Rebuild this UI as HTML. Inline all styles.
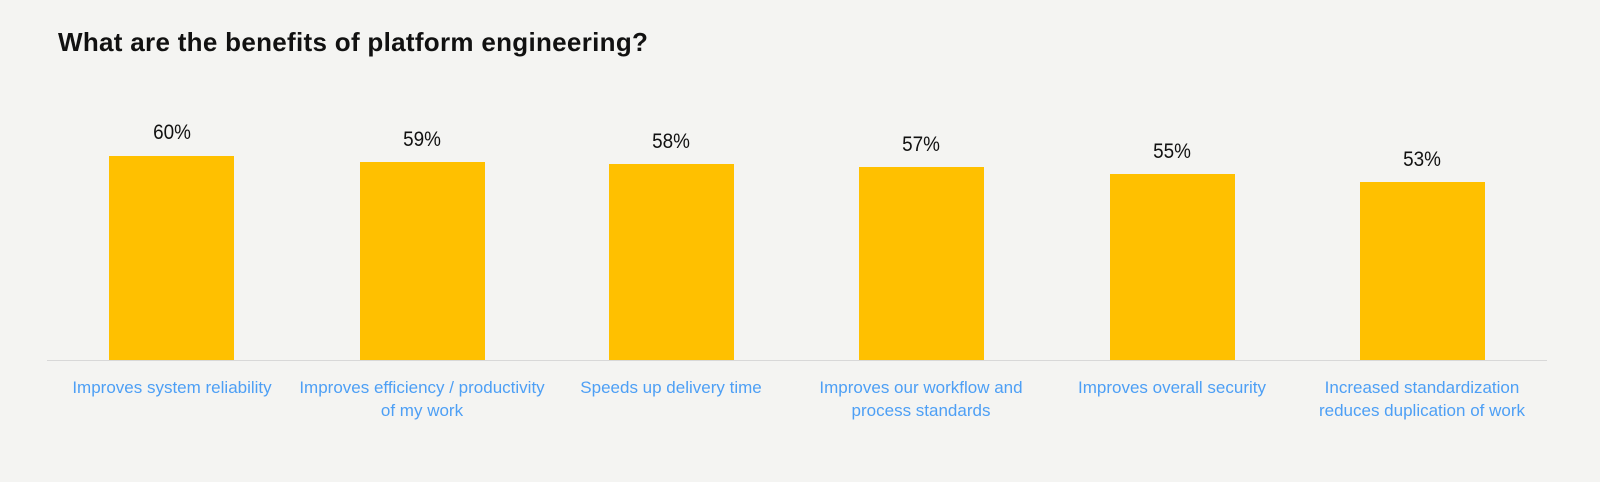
<!DOCTYPE html>
<html><head><style>
html,body{margin:0;padding:0;}
body{width:1600px;height:482px;background:#f4f4f2;position:relative;overflow:hidden;font-family:"Liberation Sans",Arial,sans-serif;}
.t{position:absolute;left:58px;top:27px;font-size:26px;font-weight:bold;color:#111;letter-spacing:0.3px;}
.bar{position:absolute;background:#ffc000;width:125px;}
.v{position:absolute;width:160px;text-align:center;font-size:21px;color:#111;transform:scaleX(0.9);}
.l{position:absolute;width:280px;text-align:center;font-size:17px;line-height:23px;color:#4d9ff5;}
.ax{position:absolute;left:47px;top:360px;width:1500px;height:1px;background:#d8d8d8;}
</style></head><body>
<div class="t">What are the benefits of platform engineering?</div>
<div class="ax"></div>

<div class="bar" style="left:109px;top:156px;height:204px"></div>
<div class="v" style="left:92px;top:121px">60%</div>
<div class="l" style="left:32px;top:376px">Improves system reliability</div>

<div class="bar" style="left:360px;top:162px;height:198px"></div>
<div class="v" style="left:342px;top:128px">59%</div>
<div class="l" style="left:282px;top:376px">Improves efficiency / productivity<br>of my work</div>

<div class="bar" style="left:609px;top:164px;height:196px"></div>
<div class="v" style="left:591px;top:130px">58%</div>
<div class="l" style="left:531px;top:376px">Speeds up delivery time</div>

<div class="bar" style="left:859px;top:167px;height:193px"></div>
<div class="v" style="left:841px;top:133px">57%</div>
<div class="l" style="left:781px;top:376px">Improves our workflow and<br>process standards</div>

<div class="bar" style="left:1110px;top:174px;height:186px"></div>
<div class="v" style="left:1092px;top:140px">55%</div>
<div class="l" style="left:1032px;top:376px">Improves overall security</div>

<div class="bar" style="left:1360px;top:182px;height:178px"></div>
<div class="v" style="left:1342px;top:148px">53%</div>
<div class="l" style="left:1282px;top:376px">Increased standardization<br>reduces duplication of work</div>
</body></html>
